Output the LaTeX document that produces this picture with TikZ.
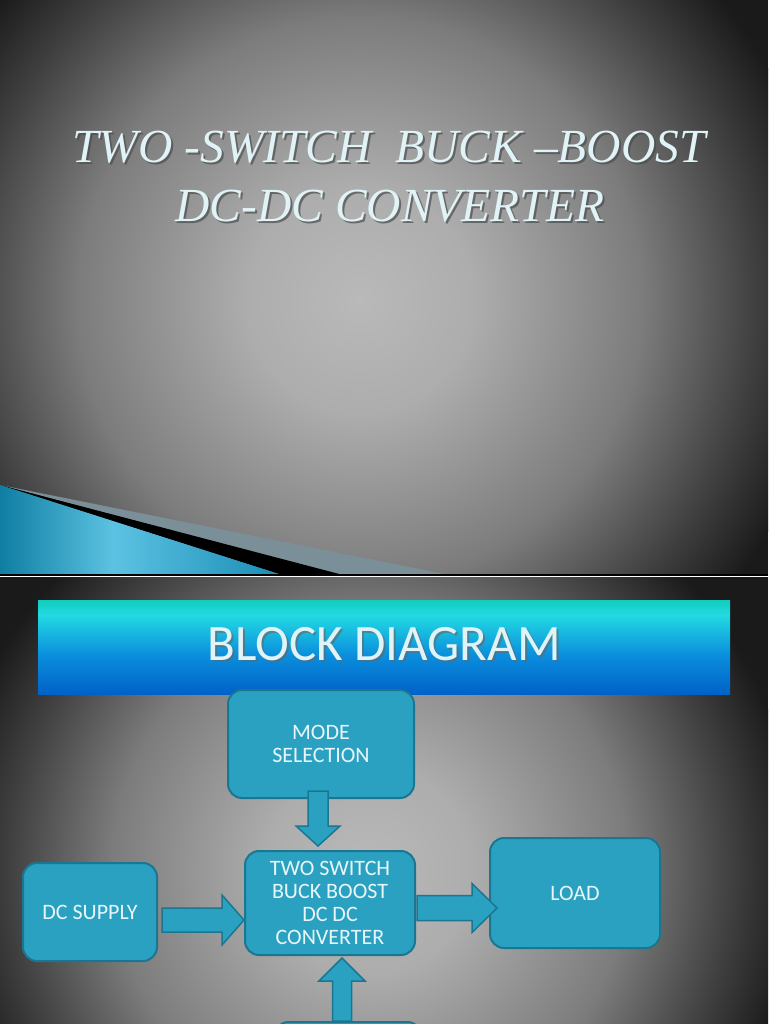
\documentclass[tikz,border=0pt]{standalone}
\usepackage{fontspec}
\setmainfont{Carlito}
\newfontfamily\titlefont{Liberation Serif}
\usetikzlibrary{calc}

\definecolor{glowa}{HTML}{B9B9B9}
\definecolor{glowb}{HTML}{ADADAD}
\definecolor{glowc}{HTML}{7C7C7C}
\definecolor{glowd}{HTML}{404040}
\definecolor{glowe}{HTML}{1A1A1A}
\definecolor{bara}{HTML}{12CDBC}
\definecolor{barb}{HTML}{22DAE2}
\definecolor{barc}{HTML}{0B8FDD}
\definecolor{bard}{HTML}{0062C8}
\definecolor{wedgea}{HTML}{0F7EA2}
\definecolor{wedgeb}{HTML}{5CC2E2}
\definecolor{wedgec}{HTML}{1A8DB6}
\definecolor{slate}{HTML}{7B8F98}
\definecolor{boxfill}{HTML}{2BA1C1}
\definecolor{boxedge}{HTML}{1B7691}
\definecolor{boxtext}{HTML}{E8F6FA}
\definecolor{titletext}{HTML}{E0F3F6}

\pgfdeclareradialshading{slideglow}{\pgfpointorigin}{color(0bp)=(glowa); color(6bp)=(glowb); color(15bp)=(glowc); color(21bp)=(glowd); color(25bp)=(glowe); color(50bp)=(glowe)}
\pgfdeclareverticalshading{barglow}{100bp}{color(0bp)=(bard); color(25bp)=(bard); color(46bp)=(barc); color(67bp)=(barb); color(75bp)=(bara); color(100bp)=(bara)}
\pgfdeclarehorizontalshading{wedgeglow}{100bp}{color(0bp)=(wedgea); color(25bp)=(wedgea); color(45bp)=(wedgeb); color(75bp)=(wedgec); color(100bp)=(wedgec)}

\tikzset{
  blockbox/.style={draw=boxedge, line width=2pt, fill=boxfill, rounded corners=14pt,
    text=boxtext, align=center, inner sep=0pt, font=\fontsize{22}{23}\selectfont},
  arrowbody/.style={draw=boxedge, line width=1.5pt, fill=boxfill, line join=miter},
  titleline/.style={anchor=base, text=titletext, font=\titlefont\itshape\fontsize{47.5}{48}\selectfont},
  titleshadow/.style={titleline, text=black!70, opacity=0.7},
  bartext/.style={anchor=base, text=titletext, font=\fontsize{51}{51}\selectfont},
  barshadow/.style={bartext, text=black!60, opacity=0.6}
}

% #1 from, #2 tip, #3 half shaft, #4 half head, #5 head length
\newcommand{\blockarrow}[5]{%
  \coordinate (headbase) at ($(#2)!#5pt!(#1)$);
  \draw[arrowbody] ($(#1)!#3pt!90:(#2)$) -- ($(headbase)!#3pt!90:(#2)$)
    -- ($(headbase)!#4pt!90:(#2)$) -- (#2) -- ($(headbase)!#4pt!-90:(#2)$)
    -- ($(headbase)!#3pt!-90:(#2)$) -- ($(#1)!#3pt!-90:(#2)$) -- cycle;}

\begin{document}
\begin{tikzpicture}[x=1pt,y=-1pt]
  \useasboundingbox (0,0) rectangle (768,1024);
  \clip (0,0) rectangle (768,1024);

  % title slide
  \fill[glowe] (0,0) rectangle (768,575);
  \begin{scope}
    \clip (0,0) rectangle (768,575);
    \shade[shading=slideglow] (360,300) circle (470);
  \end{scope}
  \fill[slate] (0,485) -- (449,575) -- (343,575) -- cycle;
  \fill[black] (0,485) -- (343,575) -- (282,575) -- cycle;
  \shade[shading=wedgeglow] (0,485) -- (282,575) -- (0,575) -- cycle;
  \draw[black, line width=2pt] (0,575) -- (768,575);

  \node[titleshadow] (title1s) at (391,165) {TWO -SWITCH \ BUCK –BOOST};
  \node[titleline] (title1) at (389,163) {TWO -SWITCH \ BUCK –BOOST};
  \node[titleshadow] (title2s) at (392,224) {DC-DC CONVERTER};
  \node[titleline] (title2) at (390,222) {DC-DC CONVERTER};

  % block diagram slide
  \fill[glowe] (0,577) rectangle (768,1024);
  \begin{scope}
    \clip (0,577) rectangle (768,1024);
    \shade[shading=slideglow] (370,870) circle (430);
  \end{scope}
  \shade[shading=barglow] (38,600) rectangle (730,694);
  \node[barshadow] (barts) at (386,662) {BLOCK DIAGRAM};
  \node[bartext] (bart) at (384,660) {BLOCK DIAGRAM};

  \node[blockbox, minimum width=186pt, minimum height=108pt] (mode) at (321,744) {MODE\\SELECTION};
  \node[blockbox, minimum width=134pt, minimum height=98pt] (supply) at (90,912) {DC SUPPLY};
  \node[blockbox, minimum width=170pt, minimum height=104pt] (conv) at (330,903) {TWO SWITCH\\BUCK BOOST\\DC DC\\CONVERTER};
  \node[blockbox, minimum width=170pt, minimum height=110pt] (load) at (575,893) {LOAD};
  \node[blockbox, minimum width=147pt, minimum height=80pt] (ctrl) at (348,1062) {};

  \coordinate (m1) at ($(mode.south)+(-3,-8)$);
  \coordinate (m2) at ($(m1 |- conv.north)+(0,-4)$);
  \blockarrow{m1}{m2}{10}{22}{20}
  \coordinate (s1) at ($(supply.east)+(4,8)$);
  \coordinate (s2) at (s1 -| conv.west);
  \blockarrow{s1}{s2}{12}{25}{22}
  \coordinate (l1) at ($(conv.east)+(1,5)$);
  \coordinate (l2) at ($(l1 -| load.west)+(8,0)$);
  \blockarrow{l1}{l2}{12.5}{24.5}{25}
  \coordinate (b1) at ($(ctrl.north)+(-6,0)$);
  \coordinate (b2) at ($(b1 |- conv.south)+(0,2)$);
  \blockarrow{b1}{b2}{9.5}{23}{23}
\end{tikzpicture}
\end{document}
